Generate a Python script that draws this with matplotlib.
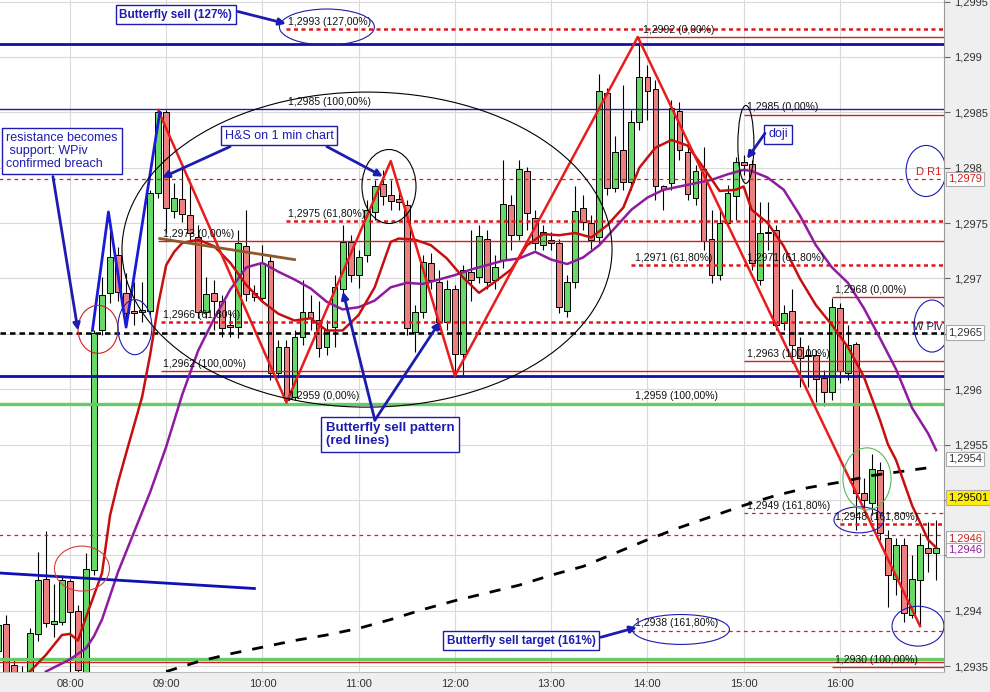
import matplotlib
matplotlib.use("Agg")
import matplotlib.pyplot as plt
from matplotlib.patches import Ellipse
import numpy as np

plt.rcParams["font.family"] = ["Liberation Sans", "DejaVu Sans"]


def tmin(s):
    # minutes relative to 08:00
    h, m = s.split(":")
    return (int(h) - 8) * 60 + int(m)


# ---- 5 minute candles, first bar at 07:15 ----
first_bar = "07:15"
bar_open = [
    1.29364, 1.29388, 1.29351, 1.29325, 1.29337, 1.29379, 1.29429, 1.29388, 1.29390,
    1.29427, 1.29400, 1.29339, 1.29437, 1.29653, 1.29687, 1.29721, 1.29687, 1.29671, 1.29670,
    1.29671, 1.29777, 1.29850, 1.29761, 1.29772, 1.29757, 1.29737, 1.29670, 1.29687, 1.29680,
    1.29658, 1.29656, 1.29729, 1.29687, 1.29682, 1.29716, 1.29615, 1.29638, 1.29593, 1.29647,
    1.29670, 1.29662, 1.29638, 1.29656, 1.29690, 1.29733, 1.29703, 1.29721, 1.29760, 1.29785,
    1.29775, 1.29772, 1.29766, 1.29652, 1.29670, 1.29714, 1.29697, 1.29661, 1.29690, 1.29632,
    1.29706, 1.29701, 1.29736, 1.29699, 1.29717, 1.29766, 1.29739, 1.29797, 1.29755, 1.29730,
    1.29735, 1.29732, 1.29671, 1.29697, 1.29764, 1.29750, 1.29737, 1.29867, 1.29782, 1.29816,
    1.29787, 1.29841, 1.29882, 1.29871, 1.29783, 1.29786, 1.29851, 1.29814, 1.29773, 1.29799,
    1.29736, 1.29703, 1.29750, 1.29774, 1.29805, 1.29803, 1.29699, 1.29741, 1.29744, 1.29660,
    1.29671, 1.29638, 1.29631, 1.29631, 1.29610, 1.29597, 1.29673, 1.29615, 1.29641, 1.29506,
    1.29497, 1.29527, 1.29466, 1.29429, 1.29459, 1.29396, 1.29428, 1.29457, 1.29452,
]
bar_high = [
    1.29392, 1.29396, 1.29357, 1.29350, 1.29384, 1.29453, 1.29472, 1.29424, 1.29432,
    1.29429, 1.29405, 1.29452, 1.29653, 1.29701, 1.29748, 1.29728, 1.29705, 1.29697, 1.29697,
    1.29780, 1.29852, 1.29852, 1.29786, 1.29800, 1.29786, 1.29748, 1.29701, 1.29699, 1.29685,
    1.29671, 1.29744, 1.29762, 1.29694, 1.29730, 1.29721, 1.29644, 1.29644, 1.29653, 1.29699,
    1.29685, 1.29680, 1.29662, 1.29703, 1.29748, 1.29739, 1.29726, 1.29771, 1.29789, 1.29798,
    1.29789, 1.29780, 1.29771, 1.29676, 1.29721, 1.29723, 1.29708, 1.29699, 1.29694, 1.29712,
    1.29744, 1.29748, 1.29744, 1.29721, 1.29807, 1.29775, 1.29807, 1.29801, 1.29762, 1.29748,
    1.29742, 1.29736, 1.29703, 1.29783, 1.29775, 1.29757, 1.29885, 1.29872, 1.29829, 1.29875,
    1.29852, 1.29918, 1.29893, 1.29879, 1.29784, 1.29861, 1.29859, 1.29820, 1.29802, 1.29819,
    1.29762, 1.29762, 1.29784, 1.29810, 1.29811, 1.29807, 1.29769, 1.29769, 1.29748, 1.29676,
    1.29690, 1.29647, 1.29640, 1.29635, 1.29617, 1.29682, 1.29678, 1.29658, 1.29643, 1.29520,
    1.29541, 1.29534, 1.29473, 1.29466, 1.29466, 1.29450, 1.29470, 1.29480, 1.29482,
]
bar_low = [
    1.29357, 1.29328, 1.29320, 1.29318, 1.29333, 1.29373, 1.29385, 1.29376, 1.29387,
    1.29342, 1.29341, 1.29337, 1.29432, 1.29649, 1.29678, 1.29680, 1.29656, 1.29658, 1.29661,
    1.29667, 1.29773, 1.29741, 1.29755, 1.29751, 1.29735, 1.29664, 1.29664, 1.29653, 1.29647,
    1.29647, 1.29646, 1.29680, 1.29680, 1.29679, 1.29608, 1.29610, 1.29587, 1.29590, 1.29640,
    1.29653, 1.29629, 1.29631, 1.29638, 1.29685, 1.29697, 1.29691, 1.29715, 1.29753, 1.29766,
    1.29762, 1.29762, 1.29649, 1.29634, 1.29664, 1.29690, 1.29653, 1.29653, 1.29615, 1.29613,
    1.29680, 1.29696, 1.29690, 1.29690, 1.29709, 1.29726, 1.29735, 1.29744, 1.29726, 1.29726,
    1.29726, 1.29669, 1.29665, 1.29691, 1.29744, 1.29727, 1.29730, 1.29775, 1.29778, 1.29780,
    1.29780, 1.29834, 1.29843, 1.29771, 1.29762, 1.29780, 1.29807, 1.29771, 1.29766, 1.29726,
    1.29696, 1.29699, 1.29746, 1.29753, 1.29793, 1.29708, 1.29694, 1.29726, 1.29653, 1.29653,
    1.29624, 1.29602, 1.29602, 1.29588, 1.29585, 1.29590, 1.29606, 1.29608, 1.29473, 1.29491,
    1.29486, 1.29464, 1.29403, 1.29414, 1.29390, 1.29393, 1.29387, 1.29435, 1.29428,
]
bar_close = [
    1.29387, 1.29337, 1.29328, 1.29340, 1.29380, 1.29428, 1.29389, 1.29391, 1.29428,
    1.29399, 1.29346, 1.29438, 1.29651, 1.29685, 1.29719, 1.29688, 1.29669, 1.29669, 1.29671,
    1.29777, 1.29850, 1.29764, 1.29773, 1.29758, 1.29741, 1.29670, 1.29686, 1.29680, 1.29655,
    1.29656, 1.29732, 1.29686, 1.29683, 1.29714, 1.29615, 1.29638, 1.29590, 1.29647, 1.29670,
    1.29664, 1.29637, 1.29653, 1.29692, 1.29733, 1.29703, 1.29719, 1.29762, 1.29783, 1.29774,
    1.29770, 1.29769, 1.29655, 1.29670, 1.29715, 1.29699, 1.29661, 1.29690, 1.29632, 1.29708,
    1.29699, 1.29738, 1.29697, 1.29710, 1.29767, 1.29739, 1.29799, 1.29759, 1.29732, 1.29742,
    1.29732, 1.29674, 1.29697, 1.29761, 1.29751, 1.29735, 1.29869, 1.29782, 1.29814, 1.29787,
    1.29841, 1.29882, 1.29869, 1.29783, 1.29781, 1.29854, 1.29816, 1.29776, 1.29797, 1.29734,
    1.29703, 1.29750, 1.29777, 1.29805, 1.29802, 1.29714, 1.29741, 1.29742, 1.29658, 1.29669,
    1.29640, 1.29628, 1.29630, 1.29609, 1.29597, 1.29674, 1.29616, 1.29640, 1.29506, 1.29500,
    1.29528, 1.29470, 1.29432, 1.29459, 1.29398, 1.29429, 1.29459, 1.29452, 1.29457,
]

# ---- moving averages ----
ma_fast_times = [
    "07:35", "07:45", "07:55", "08:00", "08:05", "08:10", "08:20", "08:25", "08:30", "08:35",
    "08:45", "08:50", "08:55", "09:00", "09:05", "09:10", "09:20", "09:30", "09:40", "09:50",
    "10:00", "10:10", "10:20", "10:30", "10:40", "10:50", "11:00", "11:10", "11:20", "11:25",
    "11:35", "11:45", "11:55", "12:05", "12:15", "12:25", "12:35", "12:45", "12:55", "13:05",
    "13:15", "13:25", "13:35", "13:45", "13:55", "14:05", "14:15", "14:25", "14:35", "14:45",
    "14:55", "15:00", "15:05", "15:15", "15:25", "15:35", "15:45", "15:55", "16:05", "16:15",
    "16:25", "16:30", "16:35", "16:45", "16:55", "17:00",
]
ma_fast = [
    1.29345, 1.29360, 1.29378, 1.29379, 1.29373, 1.29394, 1.29434, 1.29486, 1.29516, 1.29542,
    1.29593, 1.29631, 1.29676, 1.29712, 1.29724, 1.29732, 1.29735, 1.29729, 1.29714, 1.29694,
    1.29679, 1.29668, 1.29662, 1.29664, 1.29653, 1.29653, 1.29667, 1.29692, 1.29733, 1.29736,
    1.29735, 1.29730, 1.29718, 1.29701, 1.29687, 1.29697, 1.29708, 1.29730, 1.29740, 1.29739,
    1.29741, 1.29737, 1.29748, 1.29764, 1.29800, 1.29818, 1.29825, 1.29820, 1.29800, 1.29779,
    1.29780, 1.29783, 1.29762, 1.29750, 1.29729, 1.29700, 1.29676, 1.29658, 1.29638, 1.29611,
    1.29572, 1.29550, 1.29536, 1.29495, 1.29464, 1.29457,
]
ma_slow_times = [
    "07:45", "08:00", "08:10", "08:15", "08:20", "08:30", "08:40", "08:50",
    "09:00", "09:10", "09:20", "09:30", "09:40", "09:50",
    "10:00", "10:10", "10:20", "10:30", "10:40", "10:50",
    "11:00", "11:10", "11:20", "11:30", "11:40", "11:50",
    "12:00", "12:10", "12:20", "12:30", "12:40", "12:50",
    "13:00", "13:10", "13:20", "13:30", "13:40", "13:50",
    "14:00", "14:10", "14:20", "14:30", "14:40", "14:50",
    "15:00", "15:05", "15:15", "15:25", "15:35", "15:45", "15:55",
    "16:05", "16:15", "16:25", "16:35", "16:45", "16:55", "17:00",
]
ma_slow = [
    1.29345, 1.29356, 1.29366, 1.29377, 1.29392, 1.29435, 1.29471, 1.29507,
    1.29548, 1.29595, 1.29635, 1.29664, 1.29690, 1.29710,
    1.29714, 1.29706, 1.29699, 1.29691, 1.29679, 1.29672,
    1.29674, 1.29680, 1.29692, 1.29696, 1.29695, 1.29699,
    1.29703, 1.29708, 1.29712, 1.29716, 1.29718, 1.29724,
    1.29717, 1.29713, 1.29719, 1.29730, 1.29746, 1.29762,
    1.29773, 1.29780, 1.29783, 1.29786, 1.29789, 1.29794,
    1.29798, 1.29797, 1.29791, 1.29780, 1.29757, 1.29730, 1.29710,
    1.29696, 1.29673, 1.29646, 1.29618, 1.29583, 1.29560, 1.29545,
]
ma200_times = [
    "09:00", "09:20", "09:40", "10:00", "10:20", "10:40", "11:00", "11:20", "11:40",
    "12:00", "12:20", "12:40", "13:00", "13:20", "13:40", "14:00", "14:20", "14:40",
    "15:00", "15:20", "15:40", "16:00", "16:20", "16:40", "17:00",
]
ma200 = [
    1.29345, 1.29354, 1.29361, 1.29367, 1.29373, 1.29378, 1.29384, 1.29392, 1.29401,
    1.29409, 1.29416, 1.29423, 1.29432, 1.29440, 1.29452, 1.29464, 1.29475, 1.29485,
    1.29495, 1.29504, 1.29511, 1.29516, 1.29522, 1.29526, 1.29530,
]

# ---- drawn lines ----
butterfly_times = ["08:55", "10:15", "11:20", "12:00", "13:54", "16:50"]
butterfly_prices = [1.29852, 1.29588, 1.29806, 1.29612, 1.29918, 1.29386]
wiv_times = ["08:14", "08:24", "08:35", "08:56"]
wiv_prices = [1.29653, 1.29760, 1.29656, 1.29850]
neck_times = ["08:56", "10:20"]
neck_prices = [1.29736, 1.29717]
trend_times = ["07:16", "09:55"]
trend_prices = [1.29434, 1.29420]

# ---- horizontal levels ----
blue_thick_levels = [1.29912, 1.29612]
blue_thin_levels = [1.29853]
green_levels = [1.29587, 1.29356]
pivot_level = 1.29651
red_dotted_levels = [1.29925, 1.29752, 1.29712, 1.29661, 1.29478]
red_dotted_from = ["10:15", "10:15", "13:50", "08:57", "16:00"]
red_solid_levels = [1.29918, 1.29848, 1.29734, 1.29683, 1.29625, 1.29616, 1.29354, 1.29349]
red_solid_from = ["13:55", "15:00", "08:55", "15:55", "15:00", "08:57", "07:15", "15:55"]
red_dashed_levels = [1.29790, 1.29488, 1.29468, 1.29382]
red_dashed_from = ["07:15", "15:00", "07:15", "13:50"]

fib_texts = [
    "1,2993 (127,00%)", "1,2992 (0,00%)", "1,2985 (100,00%)", "1,2985 (0,00%)",
    "1,2975 (61,80%)", "1,2973 (0,00%)", "1,2971 (61,80%)", "1,2971 (61,80%)",
    "1,2968 (0,00%)", "1,2966 (61,80%)", "1,2963 (100,00%)", "1,2962 (100,00%)",
    "1,2959 (0,00%)", "1,2959 (100,00%)", "1,2949 (161,80%)", "1,2948 (161,80%)",
    "1,2938 (161,80%)", "1,2930 (100,00%)",
]
fib_times = [
    "10:16", "13:57", "10:16", "15:02", "10:16", "08:58", "13:52", "15:02", "15:57",
    "08:58", "15:02", "08:58", "10:16", "13:52", "15:02", "15:57", "13:52", "15:57",
]
fib_prices = [
    1.29925, 1.29918, 1.29853, 1.29848, 1.29752, 1.29734, 1.29712, 1.29712, 1.29683,
    1.29661, 1.29625, 1.29616, 1.29587, 1.29587, 1.29488, 1.29478, 1.29382, 1.29349,
]

# axis labels; the empty ones sit under the value tags on the right
ytick_values = [1.2935, 1.294, 1.2945, 1.295, 1.2955, 1.296, 1.2965, 1.297, 1.2975,
                1.298, 1.2985, 1.299, 1.2995]
ytick_labels = ["1,2935", "1,294", "", "", "1,2955", "1,296", "", "1,297",
                "1,2975", "1,298", "1,2985", "1,299", "1,2995"]
hour_labels = ["08:00", "09:00", "10:00", "11:00", "12:00", "13:00", "14:00", "15:00", "16:00"]

BLUE = "#1c1cb0"
RED = "#e01818"

fig = plt.figure(figsize=(9.9, 6.92), dpi=100, facecolor="#efefef")
ax = fig.add_axes([0, 20 / 692, 944 / 990, 672 / 692])
ax.set_facecolor("white")
x_left, x_right = -43.6, 544.9
ax.set_xlim(x_left, x_right)
ax.set_ylim(1.293446, 1.299514)

ax.yaxis.tick_right()
ax.set_yticks(ytick_values)
ax.set_yticklabels(ytick_labels)
ax.set_xticks([tmin(s) for s in hour_labels])
ax.set_xticklabels(hour_labels)
ax.tick_params(axis="y", direction="out", length=4, pad=3, labelsize=8, colors="#666666",
               labelcolor="#333333")
ax.tick_params(axis="x", length=0, pad=5, labelsize=8, labelcolor="#333333")
ax.grid(True, color="#d9d9d9", lw=0.8)
ax.set_axisbelow(True)
for side in ("left", "top"):
    ax.spines[side].set_visible(False)
ax.spines["right"].set_color("#999999")
ax.spines["bottom"].set_color("#bbbbbb")

# candles
bt = tmin(first_bar) + 5 * np.arange(len(bar_open))
o = np.array(bar_open)
h = np.array(bar_high)
lo = np.array(bar_low)
c = np.array(bar_close)
up = c >= o
body = np.maximum(np.abs(c - o), 0.000012)
ax.vlines(bt, lo, h, color="black", lw=0.8, zorder=2)
ax.bar(bt, body, bottom=np.minimum(o, c), width=3.6,
       color=np.where(up, "#66d966", "#ea8080"), edgecolor="black", lw=0.7, zorder=2.1)

# levels
for y in blue_thick_levels:
    ax.axhline(y, color="#1010a8", lw=2, zorder=3)
for y in blue_thin_levels:
    ax.axhline(y, color="#2020a0", lw=1, zorder=3)
for y in green_levels:
    ax.axhline(y, color="#66cc66", lw=2.4, zorder=3)
ax.axhline(pivot_level, color="black", lw=1.8, dashes=(2.2, 1.6), zorder=3)
for y, s in zip(red_dotted_levels, red_dotted_from):
    ax.hlines(y, tmin(s), x_right, color=RED, lw=1.8, linestyles=(0, (1.6, 1.4)), zorder=3)
for y, s in zip(red_solid_levels, red_solid_from):
    ax.hlines(y, tmin(s), x_right, color="#d42020", lw=1, zorder=3)
for y, s in zip(red_dashed_levels, red_dashed_from):
    ax.hlines(y, tmin(s), x_right, color="#d42020", lw=0.9, linestyles=(0, (3, 3)), zorder=3)

for txt, s, y in zip(fib_texts, fib_times, fib_prices):
    ax.annotate(txt, (tmin(s), y), xytext=(0, 1.5), textcoords="offset points",
                fontsize=7.5, color="#111111", va="bottom", ha="left", zorder=6)

# moving averages
ax.plot([tmin(s) for s in ma200_times], ma200, color="black", lw=2, dashes=(4, 4), zorder=4)
ax.plot([tmin(s) for s in ma_slow_times], ma_slow, color="#8e1c9e", lw=1.8, zorder=4)
ax.plot([tmin(s) for s in ma_fast_times], ma_fast, color="#c80f0f", lw=1.8, zorder=4)

# pattern lines
ax.plot([tmin(s) for s in butterfly_times], butterfly_prices, color="#e81c1c", lw=1.8, zorder=5)
ax.plot([tmin(s) for s in wiv_times], wiv_prices, color="#1a1ad8", lw=2, zorder=5)
ax.plot([tmin(s) for s in neck_times], neck_prices, color="#8b5a2b", lw=2, zorder=5)
ax.plot([tmin(s) for s in trend_times], trend_prices, color="#1010b8", lw=2, zorder=5)

# ellipses (centre minutes, width minutes, centre price, height price, colour)
rings = [
    (185.2, 305.5, 1.29726, 0.002845, "black"),
    (198.9, 33.7, 1.29783, 0.000668, "black"),
    (421.4, 10.0, 1.29821, 0.000704, "black"),
    (17.5, 24.9, 1.29654, 0.000433, "#d02020"),
    (7.5, 34.3, 1.29438, 0.000406, "#d04040"),
    (40.5, 21.2, 1.29656, 0.000497, BLUE),
    (160.2, 59.2, 1.29927, 0.000325, BLUE),
    (533.7, 24.9, 1.29797, 0.000461, BLUE),
    (537.4, 22.4, 1.29657, 0.000470, BLUE),
    (491.9, 31.2, 1.29482, 0.000235, BLUE),
    (380.9, 60.5, 1.29383, 0.000270, BLUE),
    (528.7, 32.4, 1.29386, 0.000360, BLUE),
    (496.9, 30.0, 1.29519, 0.000560, "#55bb55"),
]
for cx, w, cy, hh, col in rings:
    ax.add_patch(Ellipse((cx, cy), w, hh, fill=False, ec=col, lw=0.8, zorder=6))

ax.text(543, 1.29796, "D R1", color="#d02020", fontsize=8, ha="right", va="center", zorder=7)
ax.text(543.6, 1.29656, "W Piv", color="#222244", fontsize=8, ha="right", va="center", zorder=7)

# annotations
box = dict(boxstyle="square,pad=0.3", fc="white", ec=BLUE, lw=1)
arrow = dict(arrowstyle="-|>", color=BLUE, lw=2, mutation_scale=10, shrinkA=0, shrinkB=0)
narrow = ["Liberation Sans Narrow", "Liberation Sans", "DejaVu Sans"]

ax.text(66, 1.29938, "Butterfly sell (127%)", color=BLUE, fontsize=8.5, fontweight="bold",
        family=narrow, ha="center", va="center", bbox=box, zorder=8)
ax.annotate("", xy=(134.7, 1.29930), xytext=(104.7, 1.29941), arrowprops=arrow, zorder=8)

ax.text(-39.9, 1.29815, "resistance becomes\n support: WPiv\nconfirmed breach", color=BLUE,
        fontsize=9, ha="left", va="center", linespacing=1.1,
        bbox=dict(boxstyle="square,pad=0.35", fc="white", ec=BLUE, lw=1), zorder=8)
ax.annotate("", xy=(5.0, 1.29653), xytext=(-10.6, 1.29792), arrowprops=arrow, zorder=8)

ax.text(130.3, 1.29829, "H&S on 1 min chart", color=BLUE, fontsize=9, ha="center",
        va="center", bbox=box, zorder=8)
ax.annotate("", xy=(57.4, 1.29791), xytext=(99.8, 1.29819), arrowprops=arrow, zorder=8)
ax.annotate("", xy=(195.1, 1.29792), xytext=(160.2, 1.29819), arrowprops=arrow, zorder=8)

ax.text(441.4, 1.29830, "doji", color=BLUE, fontsize=9, ha="center", va="center",
        bbox=box, zorder=8)
ax.annotate("", xy=(422.1, 1.29808), xytext=(433.3, 1.29831), arrowprops=arrow, zorder=8)

ax.text(199.5, 1.29559, "Butterfly sell pattern\n(red lines)", color=BLUE, fontsize=9.5,
        fontweight="bold", ha="center", va="center", multialignment="left", linespacing=1.1,
        bbox=dict(boxstyle="square,pad=0.35", fc="white", ec=BLUE, lw=1), zorder=8)
ax.annotate("", xy=(170.2, 1.29688), xytext=(190.1, 1.29572), arrowprops=arrow, zorder=8)
ax.annotate("", xy=(230.7, 1.29661), xytext=(190.1, 1.29572), arrowprops=arrow, zorder=8)

ax.text(281.2, 1.29373, "Butterfly sell target (161%)", color=BLUE, fontsize=8.5,
        fontweight="bold", family=narrow, ha="center", va="center", bbox=box, zorder=8)
ax.annotate("", xy=(353.5, 1.29385), xytext=(331.0, 1.29376), arrowprops=arrow, zorder=8)

# right axis value boxes
tag = ax.get_yaxis_transform()
side_tags = [
    (1.29790, "1,2979", "#d02020", "white"),
    (1.29651, "1,2965", "#333333", "white"),
    (1.29537, "1,2954", "#333333", "white"),
    (1.29502, "1,29501", "#111111", "#ffee00"),
    (1.29465, "1,2946", "#d02020", "white"),
    (1.29455, "1,2946", "#8e1c9e", "white"),
]
for y, txt, tc, fc in side_tags:
    ax.text(1.004, y, txt, transform=tag, color=tc, fontsize=8, ha="left", va="center",
            clip_on=False, zorder=9,
            bbox=dict(boxstyle="square,pad=0.2", fc=fc, ec="#aaaaaa", lw=0.8))

fig.savefig("out.png", dpi=100, facecolor=fig.get_facecolor())
